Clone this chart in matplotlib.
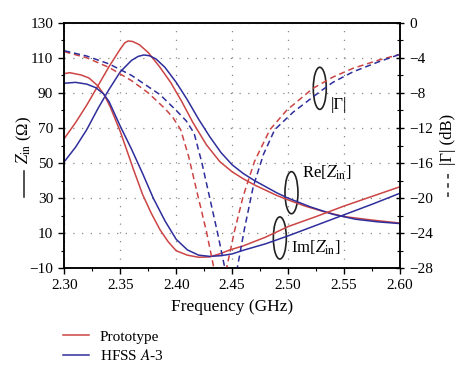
import matplotlib
matplotlib.use("Agg")
import matplotlib.pyplot as plt
from matplotlib.patches import Ellipse
from matplotlib.lines import Line2D
from matplotlib.ticker import MultipleLocator, FormatStrFormatter

plt.rcParams["font.family"] = ["Liberation Serif", "DejaVu Serif"]
plt.rcParams["mathtext.fontset"] = "stix"
plt.rcParams["font.size"] = 11

# --- data (frequency in GHz) ---
# Re[Zin], prototype
f_re_p = [2.300, 2.310, 2.320, 2.330, 2.340, 2.350, 2.354, 2.357, 2.361, 2.367,
          2.375, 2.385, 2.395, 2.405, 2.415, 2.427, 2.439, 2.450, 2.460, 2.470,
          2.480, 2.490, 2.500, 2.515, 2.532, 2.550, 2.575, 2.600]
re_p = [64, 73, 83, 94, 105, 115, 118.5, 119.6, 119.3, 117.5,
        113, 105, 96, 85, 73, 60.4, 50.8, 45, 41, 37.5,
        34.5, 31.5, 29, 25.5, 22.3, 19.5, 17.5, 15.8]

# Re[Zin], HFSS A-3
f_re_h = [2.300, 2.310, 2.320, 2.330, 2.340, 2.350, 2.360, 2.366, 2.371, 2.376,
          2.382, 2.390, 2.400, 2.410, 2.420, 2.430, 2.440, 2.450, 2.460, 2.470,
          2.480, 2.490, 2.500, 2.520, 2.540, 2.560, 2.580, 2.600]
re_h = [50.8, 59, 69, 81, 92, 102, 108.5, 110.8, 111.6, 111.2,
        109.3, 104.5, 96, 86, 75, 65, 56, 49, 44, 40,
        36.5, 33, 30, 25, 20.8, 18, 16.5, 15.5]

# Im[Zin], prototype
f_im_p = [2.300, 2.305, 2.315, 2.322, 2.330, 2.336, 2.341, 2.350, 2.356, 2.362,
          2.370, 2.378, 2.3855, 2.393, 2.400, 2.410, 2.420, 2.430, 2.440, 2.448,
          2.460, 2.480, 2.500, 2.525, 2.550, 2.575, 2.600]
im_p = [101, 101.5, 100.2, 98.5, 94, 88.5, 82, 68, 57, 46,
        32, 21, 12, 5, 0, -2.5, -3.7, -3.5, -1.5, 0.5,
        2.8, 7.8, 13.8, 19.5, 25.5, 31, 36.5]

# Im[Zin], HFSS A-3
f_im_h = [2.300, 2.310, 2.320, 2.328, 2.335, 2.340, 2.350, 2.360, 2.370, 2.3795,
          2.390, 2.400, 2.410, 2.420, 2.430, 2.440, 2.450, 2.460, 2.480, 2.500,
          2.525, 2.550, 2.575, 2.600]
im_h = [95.5, 96, 95, 93, 89.5, 85, 71, 58, 44, 30,
        17, 6.5, 0.5, -2.5, -3.2, -2.8, -1.8, 0.3, 4, 8.5,
        14.5, 20.5, 26.5, 32.8]

# |Gamma| in dB, prototype
f_g_p = [2.300, 2.320, 2.340, 2.360, 2.375, 2.390, 2.397, 2.404, 2.411, 2.4195,
         2.427, 2.4337, 2.439, 2.445, 2.452, 2.4598, 2.470, 2.4837, 2.4986, 2.522,
         2.540, 2.558, 2.580, 2.600]
g_p = [-3.3, -4.0, -5.1, -6.6, -8.0, -9.8, -10.8, -12.2, -15.2, -19.8,
       -23.8, -28, -31, -28, -23.8, -19.8, -15.8, -12.2, -10.0, -7.5,
       -6.2, -5.2, -4.3, -3.6]

# |Gamma| in dB, HFSS A-3
f_g_h = [2.300, 2.320, 2.340, 2.360, 2.3855, 2.400, 2.409, 2.416, 2.423, 2.430,
         2.437, 2.4435, 2.449, 2.4545, 2.461, 2.4688, 2.478, 2.488, 2.5045, 2.528,
         2.540, 2.558, 2.580, 2.600]
g_h = [-3.2, -3.8, -4.7, -6.0, -8.2, -10.0, -11.2, -12.6, -16.0, -20.0,
       -24.0, -28, -31, -28, -23.5, -18.7, -15.0, -12.2, -10.2, -7.9,
       -6.8, -5.6, -4.5, -3.6]

red = "#cc4444"
blue = "#2e2e9c"

fig = plt.figure(figsize=(4.74, 3.76), dpi=100)
ax = fig.add_axes([0.1357, 0.2864, 0.7082, 0.6532])
ax2 = ax.twinx()

l1, = ax.plot(f_re_p, re_p, color=red, lw=1.1)
l2, = ax.plot(f_re_h, re_h, color=blue, lw=1.1)
ax.plot(f_im_p, im_p, color=red, lw=1.1)
ax.plot(f_im_h, im_h, color=blue, lw=1.1)
ax2.plot(f_g_p, g_p, color=red, lw=1.1, ls=(0, (4, 2.5)))
ax2.plot(f_g_h, g_h, color=blue, lw=1.1, ls=(0, (4, 2.5)))

ax.set_xlim(2.30, 2.60)
ax.set_ylim(-10, 130)
ax2.set_ylim(-28, 0)
ax.xaxis.set_major_locator(MultipleLocator(0.05))
ax.xaxis.set_minor_locator(MultipleLocator(0.025))
ax.set_yticks(range(-10, 131, 20))
ax.yaxis.set_minor_locator(MultipleLocator(10))
ax2.set_yticks(range(-28, 1, 4))
ax2.yaxis.set_minor_locator(MultipleLocator(2))
ax.xaxis.set_major_formatter(FormatStrFormatter("%.2f"))

ax.tick_params(which="major", direction="out", length=4.5, width=1)
ax.tick_params(which="minor", direction="out", length=2.5, width=0.8)
ax.tick_params(axis="x", top=False, which="both")
ax2.tick_params(which="major", direction="inout", length=6, width=1)
ax2.tick_params(which="minor", direction="inout", length=4, width=0.8)
for a in (ax, ax2):
    for s in a.spines.values():
        s.set_linewidth(1.1)

ax.grid(True, which="major", linestyle=(0, (1, 6)), color="#888888", lw=0.9)
ax.set_xlabel("Frequency (GHz)", fontsize=12.5, labelpad=5)

# annotation ellipses and labels
for cx, cy in [(2.5283, 92.6), (2.5030, 33.1), (2.4926, 7.3)]:
    ax.add_patch(Ellipse((cx, cy), 0.0116, 24, fill=False, ec="#222222", lw=1.2))
ax.text(2.5380, 83, "|Γ|", ha="left", va="center", fontsize=12)
ax.text(2.5120, 44.3, r"Re[$Z_{\rm in}$]", ha="left", va="center", fontsize=12)
ax.text(2.5025, 1.6, r"Im[$Z_{\rm in}$]", ha="left", va="center", fontsize=12)

# axis labels with line-style keys
fig.text(24 / 474, 1 - 140 / 376, r"$Z_{\rm in}$ (Ω)", rotation=90, ha="center", va="center", fontsize=12)
fig.add_artist(Line2D([24 / 474, 24 / 474], [1 - 171 / 376, 1 - 197 / 376],
                      color="#222222", lw=1.1))
fig.text(448 / 474, 1 - 139 / 376, "|Γ| (dB)", rotation=90, ha="center", va="center", fontsize=12)
fig.add_artist(Line2D([448 / 474, 448 / 474], [1 - 174 / 376, 1 - 200 / 376],
                      color="#222222", lw=1.1, ls=(0, (3, 3))))

fig.legend([l1, l2], ["Prototype", r"HFSS $A$-3"], loc="upper left",
           bbox_to_anchor=(0.133, 0.122), frameon=False, borderpad=0,
           borderaxespad=0, handlelength=1.7, handletextpad=0.7, labelspacing=0.3)

fig.savefig("out.png", dpi=100)
